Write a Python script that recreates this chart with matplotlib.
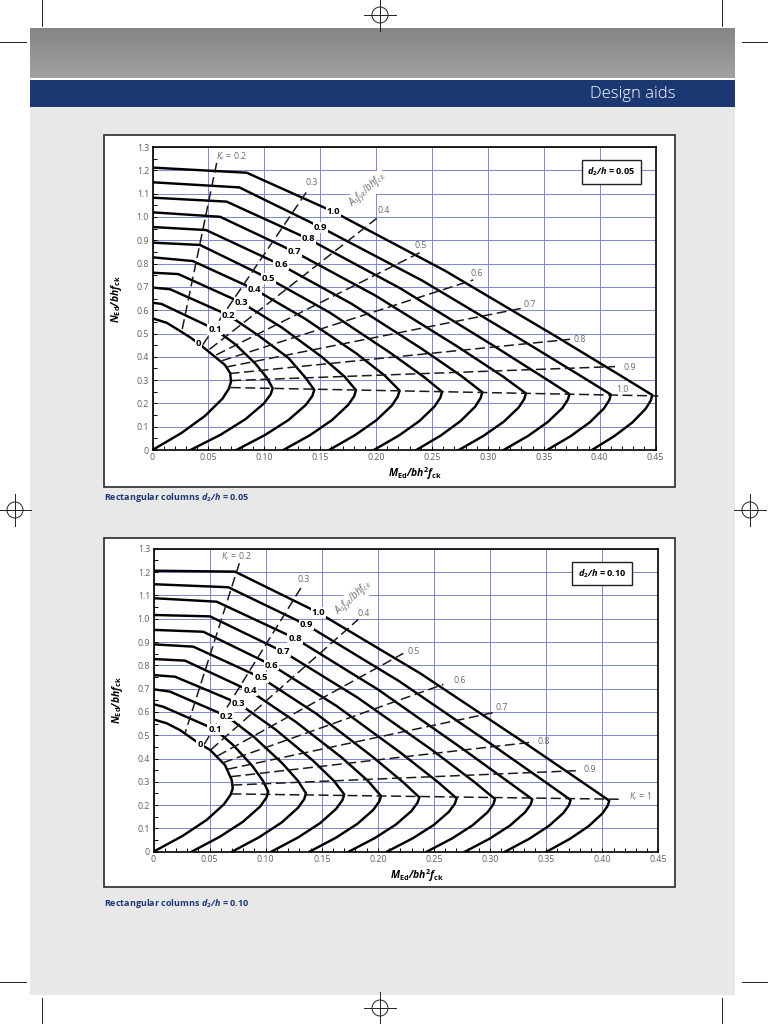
import numpy as np
import matplotlib
matplotlib.use("Agg")
import matplotlib.pyplot as plt
from matplotlib.patches import Rectangle, Circle
from matplotlib.colors import LinearSegmentedColormap
from matplotlib.ticker import MultipleLocator

plt.rcParams["font.family"] = ["Open Sans", "DejaVu Sans"]
plt.rcParams["mathtext.fontset"] = "custom"
plt.rcParams["mathtext.rm"] = "Open Sans"
plt.rcParams["mathtext.it"] = "Open Sans:italic"
plt.rcParams["mathtext.bf"] = "Open Sans:bold"
plt.rcParams["mathtext.bfit"] = "Open Sans:italic:bold"

# --- axis ticks -----------------------------------------------------------
x_ticks = [0, 0.05, 0.10, 0.15, 0.20, 0.25, 0.30, 0.35, 0.40, 0.45]
x_tick_labels = ["0", "0.05", "0.10", "0.15", "0.20", "0.25", "0.30", "0.35", "0.40", "0.45"]
y_ticks = [0, 0.1, 0.2, 0.3, 0.4, 0.5, 0.6, 0.7, 0.8, 0.9, 1.0, 1.1, 1.2, 1.3]
y_tick_labels = ["0", "0.1", "0.2", "0.3", "0.4", "0.5", "0.6", "0.7", "0.8", "0.9",
                 "1.0", "1.1", "1.2", "1.3"]

omega_labels = ["0", "0.1", "0.2", "0.3", "0.4", "0.5", "0.6", "0.7", "0.8", "0.9", "1.0"]

# --- chart 1: d2/h = 0.05, curves (M, N) ----------------------------------
c1_m = [
    [0, 0.0127, 0.0246, 0.0335, 0.041, 0.0485, 0.0648, 0.0695, 0.0702, 0.0684, 0.0625, 0.047, 0.0259, 0],
    [0, 0.008, 0.0559, 0.0740, 0.0920, 0.1023, 0.1075, 0.1057, 0.0995, 0.0832, 0.0611, 0.034],
    [0, 0.0157, 0.0678, 0.0947, 0.1216, 0.1370, 0.1447, 0.1430, 0.1371, 0.1217, 0.1007, 0.075],
    [0, 0.0231, 0.0798, 0.1156, 0.1513, 0.1718, 0.182, 0.1804, 0.1749, 0.1606, 0.141, 0.117],
    [0, 0.036, 0.0911, 0.1366, 0.182, 0.208, 0.221, 0.2194, 0.2141, 0.2002, 0.1812, 0.158],
    [0, 0.0425, 0.1036, 0.158, 0.2124, 0.2435, 0.259, 0.2575, 0.2524, 0.2389, 0.2205, 0.198],
    [0, 0.0479, 0.1149, 0.1779, 0.241, 0.277, 0.295, 0.2935, 0.2886, 0.2755, 0.2578, 0.236],
    [0, 0.0604, 0.1268, 0.1993, 0.2718, 0.3133, 0.334, 0.3325, 0.3275, 0.3142, 0.2961, 0.274],
    [0, 0.0663, 0.1394, 0.2212, 0.3029, 0.3496, 0.373, 0.3715, 0.3666, 0.3535, 0.3358, 0.314],
    [0, 0.0777, 0.1504, 0.2413, 0.3321, 0.384, 0.410, 0.4086, 0.4038, 0.3912, 0.374, 0.353],
    [0, 0.0843, 0.1617, 0.2616, 0.3614, 0.4185, 0.447, 0.4457, 0.4411, 0.4292, 0.4129, 0.393],
]
c1_n = [
    [0.565, 0.546, 0.511, 0.484, 0.458, 0.429, 0.365, 0.33, 0.293, 0.264, 0.22, 0.1465, 0.073, 0],
    [0.632, 0.627, 0.518, 0.454, 0.371, 0.310, 0.265, 0.2385, 0.199, 0.1325, 0.066, 0],
    [0.697, 0.690, 0.579, 0.4915, 0.395, 0.3096, 0.258, 0.232, 0.1935, 0.129, 0.0645, 0],
    [0.761, 0.755, 0.632, 0.526, 0.40, 0.315, 0.257, 0.231, 0.193, 0.1285, 0.064, 0],
    [0.827, 0.811, 0.690, 0.563, 0.4155, 0.3185, 0.255, 0.2295, 0.191, 0.1275, 0.064, 0],
    [0.890, 0.880, 0.737, 0.5915, 0.418, 0.311, 0.250, 0.225, 0.1875, 0.125, 0.0625, 0],
    [0.957, 0.944, 0.794, 0.628, 0.434, 0.315, 0.248, 0.2232, 0.186, 0.124, 0.062, 0],
    [1.020, 1.001, 0.851, 0.663, 0.447, 0.316, 0.243, 0.2187, 0.1823, 0.1215, 0.0608, 0],
    [1.083, 1.066, 0.906, 0.695, 0.454, 0.312, 0.240, 0.216, 0.18, 0.12, 0.06, 0],
    [1.149, 1.127, 0.956, 0.727, 0.467, 0.315, 0.238, 0.2142, 0.1785, 0.119, 0.0595, 0],
    [1.212, 1.190, 1.023, 0.7695, 0.486, 0.3197, 0.236, 0.2124, 0.177, 0.118, 0.059, 0],
]
c1_lab_m = [0.041, 0.0559, 0.0678, 0.0798, 0.0911, 0.1036, 0.1149, 0.1268, 0.1394, 0.1504, 0.1617]
c1_lab_n = [0.458, 0.518, 0.579, 0.632, 0.690, 0.737, 0.794, 0.851, 0.906, 0.956, 1.023]

# Kr lines 0.2 ... 1.0 (start, end)
c1_kr_m0 = [0.0574, 0.045, 0.051, 0.057, 0.062, 0.066, 0.069, 0.0705, 0.070]
c1_kr_n0 = [1.232, 0.452, 0.432, 0.408, 0.383, 0.356, 0.328, 0.298, 0.268]
c1_kr_m1 = [0.026, 0.1394, 0.2005, 0.2408, 0.287, 0.330, 0.3734, 0.4137, 0.4524]
c1_kr_n1 = [0.505, 1.119, 0.994, 0.851, 0.730, 0.608, 0.475, 0.358, 0.232]
c1_kr_text = [r"$K_r$ = 0.2", "0.3", "0.4", "0.5", "0.6", "0.7", "0.8", "0.9", "1.0"]
c1_kr_tm = [0.0708, 0.1424, 0.2071, 0.2399, 0.290, 0.337, 0.3824, 0.427, 0.4206]
c1_kr_tn = [1.259, 1.147, 1.026, 0.876, 0.758, 0.626, 0.475, 0.353, 0.260]

# --- chart 2: d2/h = 0.10 -------------------------------------------------
c2_m = [
    [0, 0.0118, 0.0236, 0.034, 0.0414, 0.0504, 0.0637, 0.0697, 0.0706, 0.0688, 0.0629, 0.0473, 0.026, 0],
    [0, 0.0087, 0.0548, 0.0714, 0.0881, 0.0976, 0.1023, 0.1006, 0.0949, 0.0798, 0.0592, 0.034],
    [0, 0.0147, 0.0652, 0.0899, 0.1147, 0.1288, 0.1359, 0.1343, 0.1287, 0.1142, 0.0943, 0.070],
    [0, 0.0192, 0.0756, 0.1086, 0.1417, 0.1606, 0.170, 0.1684, 0.1629, 0.1486, 0.129, 0.105],
    [0, 0.0281, 0.086, 0.1269, 0.1678, 0.1911, 0.2028, 0.2012, 0.1958, 0.1817, 0.1625, 0.139],
    [0, 0.0355, 0.0958, 0.1452, 0.1946, 0.2228, 0.2369, 0.2353, 0.230, 0.2161, 0.1972, 0.174],
    [0, 0.0444, 0.1053, 0.163, 0.2207, 0.2537, 0.2702, 0.2686, 0.2634, 0.2497, 0.231, 0.208],
    [0, 0.0504, 0.1157, 0.1817, 0.2478, 0.2855, 0.3044, 0.3029, 0.2978, 0.2843, 0.266, 0.2435],
    [0, 0.0563, 0.1261, 0.2001, 0.2742, 0.3165, 0.3376, 0.3361, 0.3311, 0.3178, 0.2997, 0.2776],
    [0, 0.0667, 0.1365, 0.2189, 0.3012, 0.3483, 0.3718, 0.3703, 0.3654, 0.3525, 0.3349, 0.3133],
    [0, 0.0726, 0.1469, 0.2377, 0.3284, 0.3803, 0.4062, 0.4048, 0.4001, 0.3878, 0.371, 0.3504],
]
c2_n = [
    [0.568, 0.551, 0.522, 0.487, 0.462, 0.437, 0.372, 0.308, 0.272, 0.245, 0.204, 0.136, 0.068, 0],
    [0.633, 0.622, 0.525, 0.456, 0.368, 0.304, 0.2575, 0.2318, 0.1931, 0.1288, 0.0644, 0],
    [0.697, 0.687, 0.582, 0.491, 0.380, 0.304, 0.2506, 0.2255, 0.188, 0.1253, 0.0627, 0],
    [0.758, 0.751, 0.637, 0.525, 0.393, 0.305, 0.246, 0.2214, 0.1845, 0.123, 0.0615, 0],
    [0.827, 0.820, 0.690, 0.557, 0.404, 0.304, 0.239, 0.2151, 0.1793, 0.1195, 0.0598, 0],
    [0.890, 0.880, 0.747, 0.592, 0.410, 0.297, 0.2335, 0.2102, 0.1751, 0.1168, 0.0584, 0],
    [0.952, 0.944, 0.801, 0.626, 0.423, 0.298, 0.229, 0.2061, 0.1718, 0.1145, 0.0573, 0],
    [1.016, 1.010, 0.858, 0.662, 0.438, 0.301, 0.226, 0.2034, 0.1695, 0.113, 0.0565, 0],
    [1.088, 1.073, 0.916, 0.696, 0.446, 0.299, 0.225, 0.2025, 0.1688, 0.1125, 0.0563, 0],
    [1.148, 1.135, 0.973, 0.732, 0.461, 0.302, 0.222, 0.1998, 0.1665, 0.111, 0.0555, 0],
    [1.206, 1.202, 1.026, 0.7655, 0.475, 0.3047, 0.219, 0.1971, 0.1643, 0.1095, 0.0548, 0],
]
c2_lab_m = [0.0414, 0.0548, 0.0652, 0.0756, 0.086, 0.0958, 0.1053, 0.1157, 0.1261, 0.1365, 0.1469]
c2_lab_n = [0.462, 0.525, 0.582, 0.637, 0.690, 0.747, 0.801, 0.858, 0.916, 0.973, 1.026]

c2_kr_m0 = [0.0765, 0.045, 0.051, 0.057, 0.062, 0.066, 0.069, 0.0703, 0.0695]
c2_kr_n0 = [1.238, 0.460, 0.437, 0.411, 0.382, 0.354, 0.322, 0.286, 0.248]
c2_kr_m1 = [0.0281, 0.132, 0.1825, 0.2226, 0.2583, 0.3029, 0.3391, 0.3786, 0.4173]
c2_kr_n1 = [0.508, 1.137, 0.997, 0.851, 0.718, 0.597, 0.471, 0.348, 0.225]
c2_kr_text = [r"$K_r$ = 0.2", "0.3", "0.4", "0.5", "0.6", "0.7", "0.8", "0.9", r"$K_r$ = 1"]
c2_kr_tm = [0.0742, 0.1341, 0.187, 0.2316, 0.2725, 0.3103, 0.3474, 0.3884, 0.4336]
c2_kr_tn = [1.266, 1.169, 1.023, 0.861, 0.734, 0.620, 0.475, 0.351, 0.236]

GRID = "#7d86cf"
TICKGREY = "#5e5e5e"
LABELGREY = "#6a6a6a"
NAVY = "#1c3775"

fig = plt.figure(figsize=(7.68, 10.24), dpi=100)

# page furniture in pixel coordinates
bg = fig.add_axes([0, 0, 1, 1])
bg.axis("off")
grey_cmap = LinearSegmentedColormap.from_list("bar", ["#858585", "#a2a2a2"])
bg.imshow(np.linspace(0, 1, 60).reshape(-1, 1), cmap=grey_cmap, aspect="auto",
          extent=(30, 735, 78, 28), zorder=1)
bg.add_patch(Rectangle((30, 80), 705, 27, fc="#1b3872", ec="none", zorder=1))
bg.add_patch(Rectangle((30, 107), 705, 888, fc="#e8e8e8", ec="none", zorder=0))
bg.text(675, 94, "Design aids", color="white", fontsize=12, fontweight="light",
        ha="right", va="center", zorder=2)
bg.set_xlim(0, 768)
bg.set_ylim(1024, 0)

for (cx, cy) in [(380, 15), (15, 510), (750, 510), (380, 1008)]:
    bg.add_patch(Circle((cx, cy), 8, fill=False, ec="#222", lw=0.7, zorder=3))
    bg.plot([cx - 16, cx + 16], [cy, cy], color="#222", lw=0.7, zorder=3, clip_on=False)
    bg.plot([cx, cx], [cy - 16, cy + 16], color="#222", lw=0.7, zorder=3, clip_on=False)
for x in (42, 722):
    bg.plot([x, x], [0, 26], color="#222", lw=0.7)
    bg.plot([x, x], [998, 1024], color="#222", lw=0.7)
for y in (42, 982):
    bg.plot([0, 26], [y, y], color="#222", lw=0.7)
    bg.plot([742, 768], [y, y], color="#222", lw=0.7)

bg.add_patch(Rectangle((104, 135), 571, 352, fc="white", ec="#2a2a2a", lw=1.2, zorder=2))
bg.add_patch(Rectangle((104, 538), 571, 349, fc="white", ec="#2a2a2a", lw=1.2, zorder=2))
bg.text(104, 497, r"Rectangular columns $\mathbfit{d}_{\mathbf{2}}\mathbfit{/h}$ = 0.05",
        color=NAVY, fontsize=6.5, fontweight="bold", va="center", zorder=3)
bg.text(104, 903, r"Rectangular columns $\mathbfit{d}_{\mathbf{2}}\mathbfit{/h}$ = 0.10",
        color=NAVY, fontsize=6.5, fontweight="bold", va="center", zorder=3)


def chart(left, bottom, width, height, cm, cn, lab_m, lab_n,
          kr_m0, kr_n0, kr_m1, kr_n1, kr_text, kr_tm, kr_tn,
          box_m, box_text, rot_m, rot_n):
    ax = fig.add_axes([left / 768, 1 - bottom / 1024, width / 768, height / 1024])
    ax.set_xlim(0, 0.45)
    ax.set_ylim(0, 1.3)
    ax.set_xticks(x_ticks)
    ax.set_xticklabels(x_tick_labels)
    ax.set_yticks(y_ticks)
    ax.set_yticklabels(y_tick_labels)
    ax.xaxis.set_minor_locator(MultipleLocator(0.01))
    ax.yaxis.set_minor_locator(MultipleLocator(0.05))
    ax.tick_params(which="both", direction="in", length=3, width=0.7,
                   labelsize=6.3, labelcolor=TICKGREY, pad=2.5)
    ax.grid(True, color=GRID, lw=0.7)
    ax.set_axisbelow(True)
    for s in ax.spines.values():
        s.set_linewidth(1.2)

    for m, n in zip(cm, cn):
        ax.plot(m, n, color="black", lw=1.75, solid_joinstyle="round", zorder=3)

    for i in range(len(kr_m0)):
        ax.plot([kr_m0[i], kr_m1[i]], [kr_n0[i], kr_n1[i]], color="#1a1a1a", lw=1.1,
                dashes=(6.5, 3), zorder=3, clip_on=False)
        ax.text(kr_tm[i], kr_tn[i], kr_text[i], fontsize=6.3, color=LABELGREY,
                ha="center", va="center", zorder=4)

    for lab, m, n in zip(omega_labels, lab_m, lab_n):
        ax.text(m, n, lab, fontsize=6.8, fontweight="bold", ha="center", va="center",
                zorder=5, bbox=dict(fc="white", ec="none", pad=0.6))

    ax.text(rot_m, rot_n, r"$A_s f_{yk}/bhf_{ck}$", fontsize=7, color=LABELGREY,
            rotation=42, ha="center", va="center", zorder=5,
            bbox=dict(fc="white", ec="none", pad=0.5))
    ax.text(box_m, 1.193, r"$\mathbfit{d}_{\mathbf{2}}\mathbfit{/h}$" + box_text,
            fontsize=6.6, fontweight="bold", ha="center", va="center", zorder=6,
            bbox=dict(boxstyle="square,pad=0.6", fc="white", ec="#222", lw=1.0))

    ax.set_ylabel(r"$\mathbfit{N}_{\mathbf{Ed}}\mathbfit{/bhf}_{\mathbf{ck}}$", fontsize=7.5)
    ax.yaxis.set_label_coords(-0.056, 0.5)
    ax.set_xlabel(r"$\mathbfit{M}_{\mathbf{Ed}}\mathbfit{/bh}^{\mathbf{2}}\mathbfit{f}_{\mathbf{ck}}$",
                  fontsize=7.5)
    ax.xaxis.set_label_coords(0.522, -0.05)
    return ax


chart(152.5, 450, 503.1, 302.9, c1_m, c1_n, c1_lab_m, c1_lab_n,
      c1_kr_m0, c1_kr_n0, c1_kr_m1, c1_kr_n1, c1_kr_text, c1_kr_tm, c1_kr_tn,
      0.4105, " = 0.05", 0.1928, 1.116)
chart(153.5, 851.7, 504.9, 302.9, c2_m, c2_n, c2_lab_m, c2_lab_n,
      c2_kr_m0, c2_kr_n0, c2_kr_m1, c2_kr_n1, c2_kr_text, c2_kr_tm, c2_kr_tn,
      0.3996, " = 0.10", 0.1781, 1.088)

fig.savefig("out.png", dpi=100)
